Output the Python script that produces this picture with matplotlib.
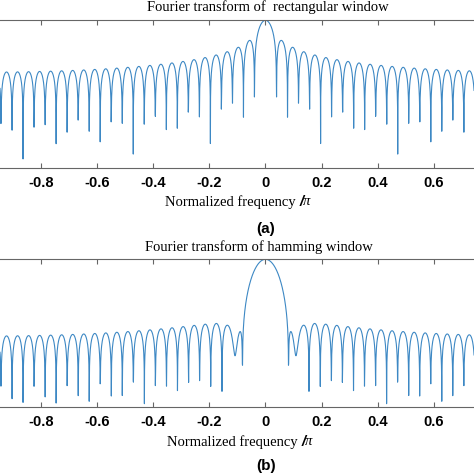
import numpy as np
import matplotlib
matplotlib.use('Agg')
import matplotlib.pyplot as plt

plt.rcParams['axes.unicode_minus'] = False

# window settings (null spacing 2/51, dense frequency grid)
win_len = 51
n_freq = 3534
tick_vals = [-0.8, -0.6, -0.4, -0.2, 0, 0.2, 0.4, 0.6]
tick_labels = ['-0.8', '-0.6', '-0.4', '-0.2', '0', '0.2', '0.4', '0.6']
titles = ['Fourier transform of  rectangular window', 'Fourier transform of hamming window']
panel_tags = ['(a)', '(b)']

windows = [np.ones(win_len), np.hamming(win_len)]

# normalized frequency grid (units of pi), half-step offset so 0 is not sampled
freq = (2 * np.arange(-n_freq // 2, n_freq // 2) + 1) / n_freq
n = np.arange(win_len)


def spectrum_db(w):
    W = np.abs(np.exp(-1j * np.pi * np.outer(freq, n)) @ w)
    return 20 * np.log10(W / w.sum() + 1e-15)


fig = plt.figure(figsize=(4.74, 4.74), dpi=100)
line_col = '#3d88c4'
spine_col = '#666666'
serif = 'Liberation Serif'
sans = 'Liberation Sans'

ax_rects = [[0, 0.6456, 1, 0.3122], [0, 0.1414, 1, 0.3122]]
title_pos = [(0.565, 0.985), (0.547, 0.479)]
xlab_pos = [(0.348, 0.574), (0.352, 0.068)]
tag_pos = [(0.561, 0.517), (0.561, 0.016)]

for i in range(2):
    ax = fig.add_axes(ax_rects[i])
    ax.plot(freq, spectrum_db(windows[i]), color=line_col, lw=0.8)
    ax.set_xlim(-0.9448, 0.742)
    ax.set_ylim(-97.4, 0.2)
    ax.set_yticks([])
    ax.spines['left'].set_visible(False)
    ax.spines['right'].set_visible(False)
    for s in ('top', 'bottom'):
        ax.spines[s].set_color(spine_col)
        ax.spines[s].set_linewidth(0.8)
    ax.set_xticks(tick_vals)
    ax.set_xticklabels(tick_labels, fontfamily=sans, fontweight='bold', fontsize=10.5)
    ax.tick_params(axis='x', direction='in', top=True, length=3.6, width=0.8,
                   color=spine_col, pad=6)

    fig.text(*title_pos[i], titles[i], ha='center', va='center',
             fontfamily=serif, fontsize=10.5)
    t1 = fig.text(*xlab_pos[i], 'Normalized frequency ', ha='left', va='center',
                  fontfamily=serif, fontsize=10.5)
    t2 = ax.annotate('/', xy=(1, 0.5), xycoords=t1, va='center', ha='left',
                     fontfamily=sans, fontweight='bold', fontstyle='italic', fontsize=10.5)
    ax.annotate('\u03c0', xy=(1, 0.5), xycoords=t2, va='center', ha='left',
                fontfamily=serif, fontstyle='italic', fontsize=10.5)
    fig.text(*tag_pos[i], panel_tags[i], ha='center', va='center',
             fontfamily=sans, fontweight='bold', fontsize=11)

fig.savefig('out.png', dpi=100)
